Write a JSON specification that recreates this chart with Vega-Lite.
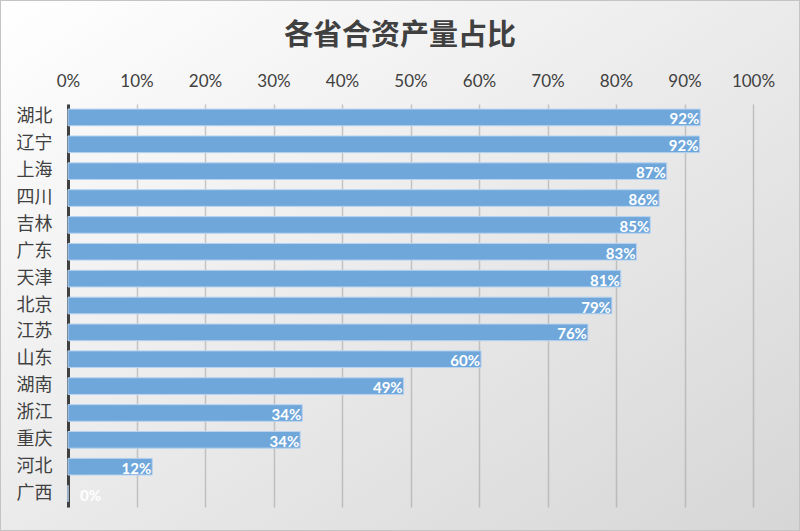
{
  "$schema": "https://vega.github.io/schema/vega-lite/v6.json",
  "autosize": {"type": "none"},
  "width": 800,
  "height": 531,
  "padding": 0,
  "background": "#ffffff",
  "title": {
    "text": "各省合资产量占比",
    "font": "Noto Sans CJK SC",
    "fontSize": 29,
    "fontWeight": "bold",
    "color": "#404040",
    "anchor": "middle",
    "baseline": "bottom",
    "offset": -50,
    "dy": 30
  },
  "config": {
    "view": {
      "stroke": "#c4c4c4",
      "strokeWidth": 2,
      "fill": {"gradient": "linear", "x1": 0, "y1": 0, "x2": 1, "y2": 1, "stops": [{"offset": 0, "color": "#ffffff"}, {"offset": 1, "color": "#d6d6d6"}]}
    }
  },
  "data": {
    "values": [
      {"province": "湖北", "value": 0.923},
      {"province": "辽宁", "value": 0.922},
      {"province": "上海", "value": 0.874},
      {"province": "四川", "value": 0.863},
      {"province": "吉林", "value": 0.85},
      {"province": "广东", "value": 0.83},
      {"province": "天津", "value": 0.807},
      {"province": "北京", "value": 0.794},
      {"province": "江苏", "value": 0.759},
      {"province": "山东", "value": 0.603},
      {"province": "湖南", "value": 0.49},
      {"province": "浙江", "value": 0.342},
      {"province": "重庆", "value": 0.339},
      {"province": "河北", "value": 0.123},
      {"province": "广西", "value": 0}
    ]
  },
  "encoding": {
    "y": {
      "field": "province",
      "type": "nominal",
      "sort": null,
      "scale": {"range": [104, 507], "paddingInner": 0.38, "paddingOuter": 0.19},
      "axis": {
        "title": null,
        "ticks": false,
        "offset": -68,
        "domainColor": "#404040",
        "domainWidth": 3,
        "labelFont": "Noto Sans CJK SC",
        "labelFontSize": 18,
        "labelColor": "#404040",
        "labelPadding": 16
      }
    },
    "x": {
      "field": "value",
      "type": "quantitative",
      "scale": {"domain": [0, 1], "nice": false, "range": [68, 753]},
      "axis": {
        "orient": "top",
        "title": null,
        "format": ".0%",
        "offset": -104,
        "values": [0, 0.1, 0.2, 0.3, 0.4, 0.5, 0.6, 0.7, 0.8, 0.9, 1],
        "labelOverlap": false,
        "labelFlush": false,
        "ticks": false,
        "domain": false,
        "grid": true,
        "gridColor": "#9a9a9a",
        "gridOpacity": 0.5,
        "gridWidth": 1.5,
        "labelFont": "Lato",
        "labelFontSize": 17,
        "labelColor": "#404040",
        "labelPadding": 14
      }
    }
  },
  "layer": [
    {
      "mark": {"type": "bar", "fill": "#6fa7db", "stroke": "#b8d3ef", "strokeWidth": 1}
    },
    {
      "transform": [{"filter": "datum.value > 0"}],
      "mark": {"type": "text", "align": "right", "baseline": "middle", "dx": -1, "dy": 2, "font": "Lato", "fontSize": 15, "fontWeight": "bold", "fill": "white"},
      "encoding": {"text": {"field": "value", "type": "quantitative", "format": ".0%"}}
    },
    {
      "transform": [{"filter": "datum.value == 0"}],
      "mark": {"type": "text", "align": "left", "baseline": "middle", "dx": 12, "dy": 2, "font": "Lato", "fontSize": 15, "fontWeight": "bold", "fill": "white"},
      "encoding": {"text": {"field": "value", "type": "quantitative", "format": ".0%"}}
    }
  ]
}
